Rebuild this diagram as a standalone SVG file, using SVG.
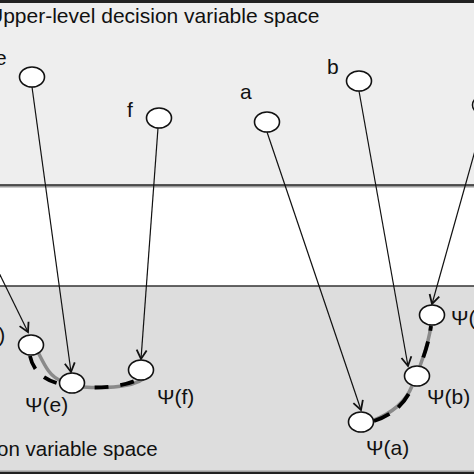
<svg xmlns="http://www.w3.org/2000/svg" width="474" height="474" viewBox="0 0 474 474">
<style>
  .lbl { font-family: "Liberation Sans", Arial, sans-serif; font-size: 21px; fill: #111; }
  .node { fill: #ffffff; stroke: #111; stroke-width: 1.6; }
  .arrow { fill: none; stroke: #111; stroke-width: 1.2; marker-end: url(#head); }
  .front { fill: none; stroke: #8a8a8a; stroke-width: 3.5; }
  .approx { fill: none; stroke: #000; stroke-width: 3.8; }
</style>
<defs>
  <marker id="head" markerUnits="userSpaceOnUse" markerWidth="14" markerHeight="14" viewBox="0 0 14 14" refX="12" refY="7" orient="auto">
    <path d="M3,2 L12,7 L3,12" fill="none" stroke="#111" stroke-width="1.8"/>
  </marker>
</defs>

<!-- bands -->
<g id="upper-space">
  <rect x="-2" y="1.5" width="478" height="184" fill="#eeeeee" stroke="none"/>
  <line x1="0" y1="1.5" x2="474" y2="1.5" stroke="#222" stroke-width="3"/>
  <line x1="0" y1="186.5" x2="474" y2="186.5" stroke="#9a9a9a" stroke-width="2"/>
  <line x1="0" y1="185" x2="474" y2="185" stroke="#222" stroke-width="1.6"/>
  <text class="lbl" x="-12" y="23">Upper-level decision variable space</text>
</g>
<g id="lower-space">
  <rect x="-2" y="286" width="478" height="186" fill="#dddddd" stroke="none"/>
  <line x1="0" y1="286" x2="474" y2="286" stroke="#333" stroke-width="1.6"/>
  <line x1="0" y1="471.5" x2="474" y2="471.5" stroke="#9a9a9a" stroke-width="2"/>
  <line x1="0" y1="473" x2="474" y2="473" stroke="#222" stroke-width="2"/>
  <text class="lbl" x="-3" y="456" style="font-size:20.5px">on variable space</text>
</g>

<!-- fronts -->
<g id="fronts">
  <path class="front" d="M38,352 C45,366 50,377 62,381"/>
  <path class="front" d="M83,387 C100,388 130,388 143,379"/>
  <path class="approx" stroke-dasharray="14 12" d="M30,356 C33,371 44,380 60,384 C90,390 120,388 137,380"/>
  <path class="front" d="M372,421 C390,414 405,404 412,386"/>
  <path class="front" d="M420,366 C426,350 430,335 431,324"/>
  <path class="approx" stroke-dasharray="17 11" d="M374,421 C390,416 405,405 412,387 L418,372 C424,356 429,342 431,326"/>
</g>

<!-- upper nodes -->
<g id="node-e">
  <ellipse class="node" cx="32" cy="77" rx="12.5" ry="10"/>
  <text class="lbl" x="-5" y="65">e</text>
</g>
<g id="node-f">
  <ellipse class="node" cx="159" cy="118" rx="12.5" ry="10"/>
  <text class="lbl" x="127" y="117">f</text>
</g>
<g id="node-a">
  <ellipse class="node" cx="267" cy="122" rx="12.5" ry="10"/>
  <text class="lbl" x="240" y="99">a</text>
</g>
<g id="node-b">
  <ellipse class="node" cx="359" cy="81" rx="12.5" ry="10"/>
  <text class="lbl" x="327" y="74">b</text>
</g>
<g id="node-c">
  <ellipse class="node" cx="485" cy="105" rx="12.5" ry="10"/>
</g>

<!-- lower nodes -->
<g id="node-psi-d">
  <ellipse class="node" cx="31" cy="345" rx="12.5" ry="10"/>
  <text class="lbl" x="-38" y="342">Ψ(d)</text>
</g>
<g id="node-psi-e">
  <ellipse class="node" cx="72" cy="383" rx="12.5" ry="10"/>
  <text class="lbl" x="25" y="412">Ψ(e)</text>
</g>
<g id="node-psi-f">
  <ellipse class="node" cx="141" cy="370" rx="12.5" ry="10"/>
  <text class="lbl" x="157" y="404">Ψ(f)</text>
</g>
<g id="node-psi-a">
  <ellipse class="node" cx="361" cy="422" rx="12.5" ry="10"/>
  <text class="lbl" x="366" y="455">Ψ(a)</text>
</g>
<g id="node-psi-b">
  <ellipse class="node" cx="417" cy="376" rx="12.5" ry="10"/>
  <text class="lbl" x="427" y="404">Ψ(b)</text>
</g>
<g id="node-psi-c">
  <ellipse class="node" cx="432" cy="315" rx="12.5" ry="10"/>
  <text class="lbl" x="451" y="325">Ψ(c)</text>
</g>

<!-- connectors -->
<g id="connectors">
  <line class="arrow" x1="32" y1="87" x2="71" y2="372"/>
  <line class="arrow" x1="158" y1="128" x2="141" y2="359"/>
  <line class="arrow" x1="267" y1="132" x2="361" y2="410"/>
  <line class="arrow" x1="359" y1="91" x2="408" y2="366"/>
  <line class="arrow" x1="485" y1="115" x2="432" y2="304"/>
  <line class="arrow" x1="-25" y1="224" x2="28" y2="332"/>
</g>
</svg>
